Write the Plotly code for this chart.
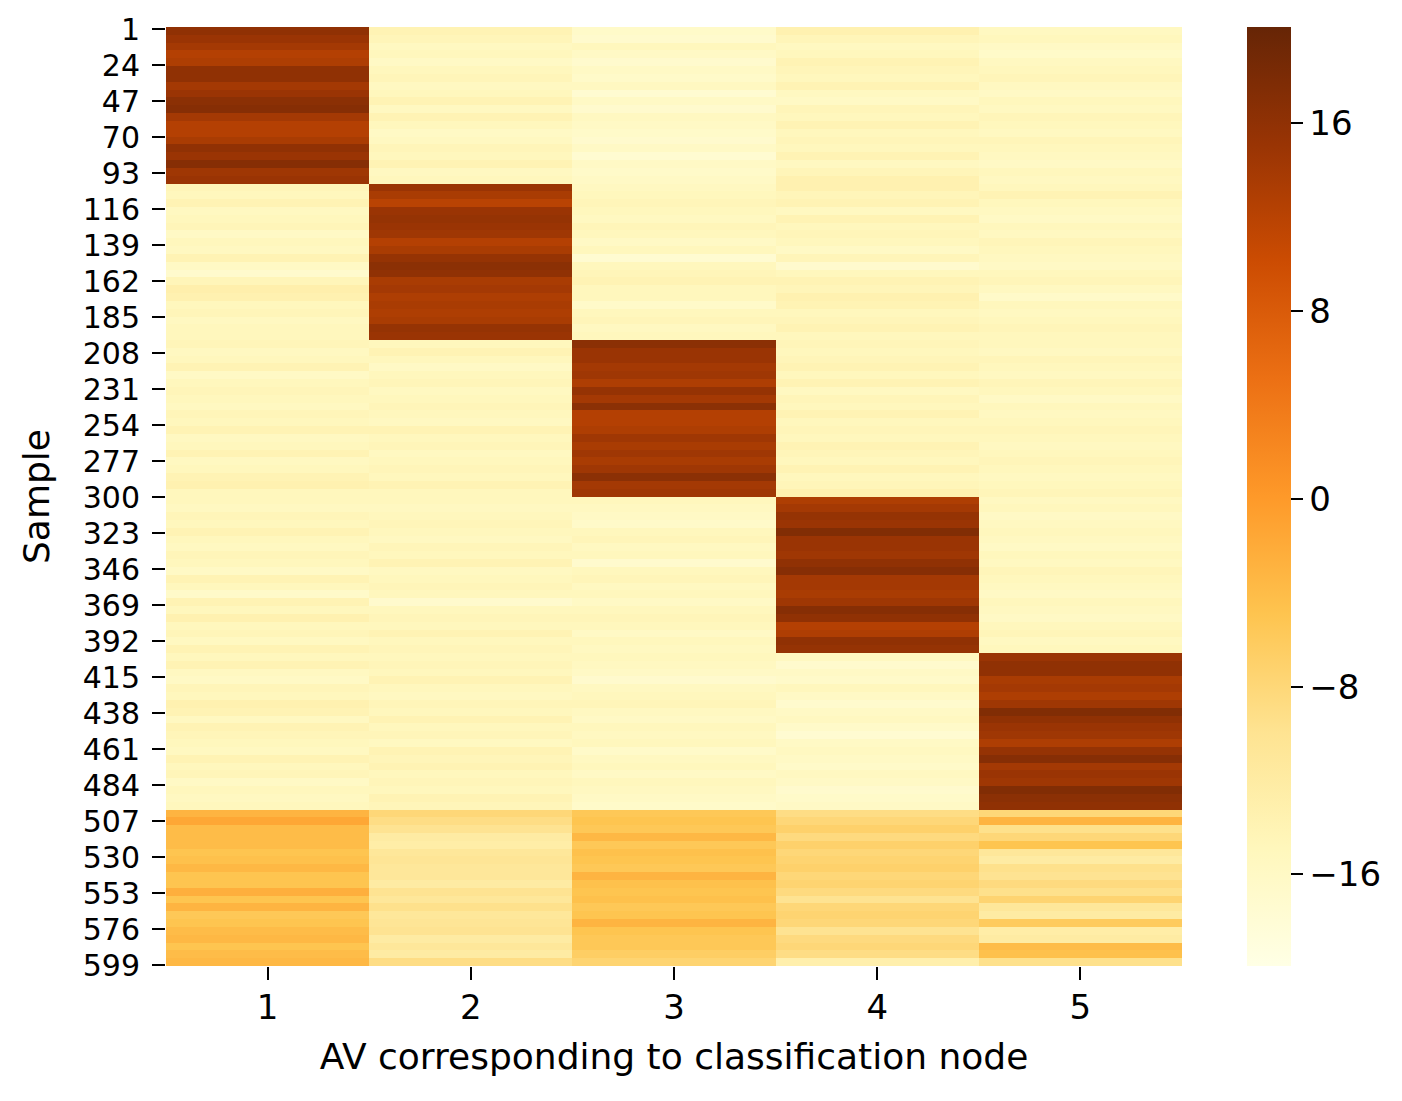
import plotly.graph_objects as go

# Column labels (classification nodes)
nodes = [1, 2, 3, 4, 5]

# Activation values, one value per group of 5 consecutive samples (120 groups = 600 samples)
col1 = [
    16, 15, 14, 12.5, 13, 16, 16, 14, 15, 16.5, 17, 14, 12.5, 12.5, 13.5, 16, 15, 17, 14.5, 15,
    -14.5, -15, -14, -15.5, -15, -14.5, -16, -15, -15.5, -14, -16, -17, -14.5, -13, -13.5, -15, -14.5, -15.5, -15, -15,
    -14.5, -15.5, -15, -14, -16, -15, -14.5, -15, -15.5, -14.5, -15, -14, -15.5, -15, -14, -15.5, -15, -14, -13.5, -15,
    -15, -15.5, -14.5, -15, -14, -15, -15.5, -14.5, -15, -16, -14, -15, -16.5, -14, -15, -13.5, -15, -14.5, -15.5, -14,
    -15, -14, -15.5, -16, -14.5, -15, -13.5, -14, -15.5, -14, -14.5, -15, -15.5, -14, -15, -14.5, -16, -15, -15.5, -15,
    -3, -1.5, -4, -4, -4, -5, -4.5, -3.5, -5, -5, -2.5, -5, -3, -5.5, -5, -4, -3.5, -5, -4, -3.5,
]
col2 = [
    -14, -14.5, -15.5, -15, -16, -15, -14.5, -15.5, -15, -14, -15.5, -14, -15, -16, -15.5, -14.5, -15, -14, -15.5, -15,
    15, 13.5, 12, 15, 15.5, 15, 14.5, 12.5, 13.5, 15.5, 16.5, 16, 13.5, 14, 13, 13.5, 13, 13.5, 15.5, 15,
    -15, -14, -15, -16, -15, -14.5, -15.5, -15, -14.5, -15, -15.5, -14, -15, -14.5, -15.5, -15, -14.5, -15, -14, -15,
    -15, -15.5, -15, -14.5, -15, -15.5, -14.5, -15, -14, -15.5, -15, -14.5, -15, -17, -15, -14.5, -15, -14, -15, -14.5,
    -15, -14.5, -15, -14, -15, -15.5, -14.5, -15, -14, -15, -14.5, -15.5, -14, -14.5, -14, -15, -14.5, -15, -14, -14.5,
    -8, -9, -10, -12, -12.5, -11, -10.5, -11, -11, -12, -10, -11, -9.5, -11, -10.5, -10, -12, -11, -12, -9,
]
col3 = [
    -16.5, -17, -15, -16, -17, -16, -16.5, -15.5, -17.5, -16, -17, -15.5, -16, -16.5, -17, -16, -17.5, -16, -16.5, -16,
    -15.5, -15, -14.5, -15, -15.5, -14.5, -15, -16, -15, -17.5, -15, -14.5, -14, -15, -15, -16.5, -15, -14.5, -15.5, -15,
    16.5, 15, 15, 14, 14.5, 13, 15.5, 14, 16.5, 12.5, 12.5, 13, 14.5, 13.5, 14.5, 13.5, 14.5, 16.5, 14, 14.5,
    -15, -15.5, -16, -16.5, -15, -14.5, -15.5, -15, -17, -15, -14.5, -15.5, -15, -16, -15, -14.5, -15, -16, -15, -15.5,
    -15, -15.5, -16, -17, -15.5, -15, -14.5, -15.5, -16, -15, -15.5, -15, -16.5, -15.5, -15, -16, -15, -15.5, -16, -16.5,
    -5.5, -5, -5.5, -3.5, -5.5, -4.5, -5, -5.5, -3, -4.5, -5, -4.5, -5.5, -5, -3, -5, -5.5, -5.5, -6.5, -7.5,
]
col4 = [
    -13.5, -14.5, -15.5, -15, -14, -14.5, -15, -14, -15.5, -16, -14.5, -15, -14, -15, -14.5, -15, -14, -15.5, -14.5, -13.5,
    -13.5, -14.5, -14, -15.5, -14, -15, -14.5, -15, -16, -14.5, -17, -15, -14, -14.5, -13.5, -14, -15, -14.5, -14, -15,
    -14.5, -15, -14.5, -14, -15, -14, -15.5, -14.5, -15, -14, -15, -14.5, -15, -14, -14.5, -15, -14, -15, -14.5, -13.5,
    13, 14, 15.5, 15, 17.5, 15, 15, 14.5, 16, 17, 14, 14, 13.5, 14.5, 17, 16, 12.5, 13, 16, 15.5,
    -15.5, -17, -16, -16.5, -15, -16, -17, -16, -15.5, -16.5, -17.5, -16, -15.5, -16, -16.5, -15.5, -16, -17, -16.5, -16,
    -9, -8, -7, -8.5, -7, -8, -7.5, -7, -8, -7.5, -8.5, -10, -8, -7.5, -8, -10, -8.5, -8, -9, -13,
]
col5 = [
    -15.5, -15, -16, -16.5, -15.5, -15, -14.5, -15.5, -16, -15, -15.5, -14.5, -15, -15.5, -14.5, -15, -15.5, -16, -15, -15.5,
    -15, -14, -15, -15.5, -16, -15, -15.5, -14.5, -15, -15.5, -16, -15, -14.5, -15.5, -16.5, -15, -15.5, -15, -14.5, -15,
    -15, -15.5, -14.5, -15, -15.5, -14.5, -15, -16, -15, -15.5, -15, -14.5, -15, -15.5, -15, -14.5, -15, -15.5, -15, -14.5,
    -15.5, -15, -16, -15.5, -15, -15.5, -16, -15, -15.5, -14.5, -15, -15.5, -16, -15, -15.5, -16, -15, -14.5, -15.5, -15,
    15, 16, 16, 13.5, 14, 13, 14.5, 17.5, 16, 15, 14.5, 13, 15.5, 17, 14, 15, 14.5, 17.5, 16.5, 16,
    -8, -3, -9.5, -8, -5, -11, -12, -9.5, -10, -8.5, -9.5, -7.5, -11, -12, -6, -12.5, -12, -4, -4.5, -9.5,
]

n_samples = 600
group_size = 5

# Sample tick labels (0-based sample index shown every 23 samples)
y_tick_values = [1, 24, 47, 70, 93, 116, 139, 162, 185, 208, 231, 254, 277, 300, 323,
                 346, 369, 392, 415, 438, 461, 484, 507, 530, 553, 576, 599]
y_tick_labels = [str(v) for v in y_tick_values]

# Colorbar ticks
cbar_values = [16, 8, 0, -8, -16]
cbar_labels = ["16", "8", "0", "\u22128", "\u221216"]

z = [list(row) for row in zip(col1, col2, col3, col4, col5)]
# Row edges in 0-based sample coordinates (row k spans k .. k+1)
y_edges = [i * group_size for i in range(len(col1) + 1)]
x_edges = [n - 0.5 for n in nodes] + [nodes[-1] + 0.5]
# tick centred on its row
y_tick_pos = [v + 0.5 for v in y_tick_values]

ylorbr = [
    [0.0, "rgb(255,255,229)"], [0.125, "rgb(255,247,188)"], [0.25, "rgb(254,227,145)"],
    [0.375, "rgb(254,196,79)"], [0.5, "rgb(254,153,41)"], [0.625, "rgb(236,112,20)"],
    [0.75, "rgb(204,76,2)"], [0.875, "rgb(153,52,4)"], [1.0, "rgb(102,37,6)"],
]

FONT = "DejaVu Sans"
TICK_FS = 34
YTICK_FS = 30
TITLE_FS = 36

fig = go.Figure(
    go.Heatmap(
        z=z,
        x=x_edges,
        y=y_edges,
        colorscale=ylorbr,
        zmin=-19.9,
        zmax=20.1,
        colorbar=dict(
            x=1.064, xanchor="left", xref="paper",
            y=0.5, yanchor="middle", len=1.0, lenmode="fraction", ypad=0, xpad=0,
            thickness=44, outlinewidth=0,
            tickvals=cbar_values, ticktext=cbar_labels,
            ticks="outside", ticklen=12, tickwidth=2, tickcolor="black",
            tickfont=dict(family=FONT, size=TICK_FS, color="black"),
        ),
    )
)

fig.update_layout(
    width=1402, height=1101,
    margin=dict(l=158, r=228, t=19, b=143, autoexpand=False),
    paper_bgcolor="white", plot_bgcolor="white",
    font=dict(family=FONT, size=TICK_FS, color="black"),
)

fig.update_xaxes(
    range=[0.5, 5.5],
    tickvals=nodes, ticktext=[str(n) for n in nodes],
    ticks="outside", ticklen=13, tickwidth=2, tickcolor="black",
    ticklabelstandoff=-2,
    tickfont=dict(family=FONT, size=TICK_FS),
    showgrid=False, zeroline=False, showline=False, automargin=False,
    title=dict(text="AV corresponding to classification node", font=dict(family=FONT, size=TITLE_FS), standoff=18),
)
fig.update_yaxes(
    range=[n_samples, 0],
    tickvals=y_tick_pos, ticktext=y_tick_labels,
    ticks="outside", ticklen=13, tickwidth=2, tickcolor="black",
    ticklabelstandoff=6,
    tickfont=dict(family=FONT, size=YTICK_FS),
    showgrid=False, zeroline=False, showline=False, automargin=False,
    title=dict(text="Sample", font=dict(family=FONT, size=TITLE_FS), standoff=22),
)

fig.write_html("out.html")
